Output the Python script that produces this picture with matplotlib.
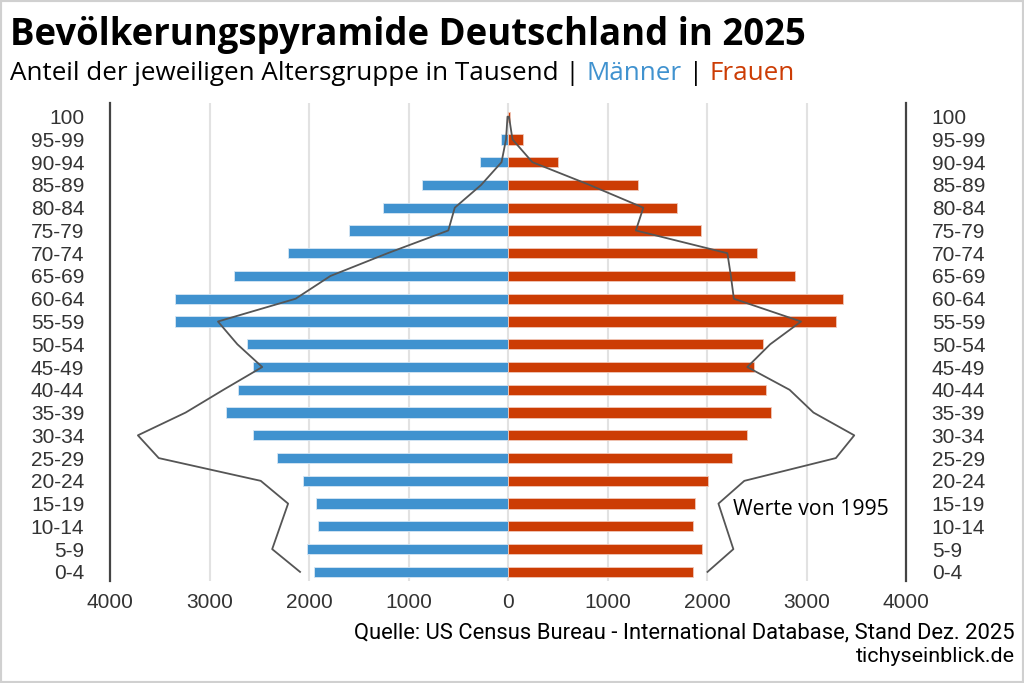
import matplotlib
matplotlib.use('Agg')
import matplotlib.pyplot as plt
from matplotlib.ticker import FuncFormatter, FixedLocator
from matplotlib.patches import Rectangle
import numpy as np

age_groups = ['0-4', '5-9', '10-14', '15-19', '20-24', '25-29', '30-34', '35-39',
              '40-44', '45-49', '50-54', '55-59', '60-64', '65-69', '70-74',
              '75-79', '80-84', '85-89', '90-94', '95-99', '100']
male_2025 = [1945, 2025, 1910, 1925, 2060, 2320, 2560, 2835, 2715, 2560, 2625,
             3350, 3350, 2750, 2215, 1600, 1255, 865, 285, 70, 5]
female_2025 = [1860, 1945, 1860, 1875, 2015, 2250, 2405, 2645, 2595, 2475, 2560,
               3295, 3365, 2885, 2505, 1940, 1700, 1305, 500, 155, 20]
male_1995 = [2090, 2370, 2290, 2210, 2485, 3510, 3720, 3240, 2860, 2470, 2720,
             2915, 2135, 1785, 1210, 600, 535, 270, 65, 20, 5]
female_1995 = [2005, 2265, 2190, 2115, 2375, 3295, 3480, 3070, 2830, 2405, 2635,
               2945, 2270, 2240, 2205, 1285, 1360, 820, 245, 45, 10]
x_ticks = [-4000, -3000, -2000, -1000, 0, 1000, 2000, 3000, 4000]

BLUE = '#4092cf'
ORANGE = '#cc3c04'
W, H = 1024, 683

fig = plt.figure(figsize=(W / 100, H / 100), dpi=100)
fig.patch.set_facecolor('white')
ax = fig.add_axes([110 / W, 1 - 581 / H, 796 / W, 478 / H])

idx = np.arange(len(age_groups))
ax.barh(idx, -np.array(male_2025), height=0.45, color=BLUE,
        edgecolor='#d6e6f4', linewidth=0.6, zorder=2)
ax.barh(idx, np.array(female_2025), height=0.45, color=ORANGE,
        edgecolor='#f0c8b8', linewidth=0.6, zorder=2)

line_x = np.concatenate([-np.array(male_1995), np.array(female_1995)[::-1]])
line_y = np.concatenate([idx, idx[::-1]])
ax.plot(line_x, line_y, color='#555555', lw=1.3, zorder=3)

ax.set_xlim(-4000, 4000)
ax.set_ylim(-0.4, 20.6)
ax.xaxis.set_major_locator(FixedLocator(x_ticks))
ax.xaxis.set_major_formatter(FuncFormatter(lambda v, p: f'{abs(int(v))}'))
for g in x_ticks[1:-1]:
    ax.axvline(g, color='#e2e2e2', lw=1.5, zorder=0)

ax.set_yticks(idx)
ax.set_yticklabels(age_groups)
ax.tick_params(axis='y', length=0, pad=18.5, labelsize=15, labelcolor='#333333',
               labelleft=True, labelright=True)
ax.tick_params(axis='x', length=0, pad=9, labelsize=15, labelcolor='#333333')
for lab in ax.get_xticklabels():
    lab.set_fontfamily('Liberation Sans')
for tick in ax.yaxis.get_major_ticks():
    tick.label1.set_fontfamily('Liberation Sans')
    tick.label2.set_fontfamily('Liberation Sans')

for s in ['top', 'bottom']:
    ax.spines[s].set_visible(False)
for s in ['left', 'right']:
    ax.spines[s].set_color('#444444')
    ax.spines[s].set_linewidth(1.6)

renderer = fig.canvas.get_renderer()


def fit(t, target_w):
    w = t.get_window_extent(renderer).width
    t.set_fontsize(t.get_fontsize() * target_w / w)


# Title
title = fig.text(10 / W, 1 - 45 / H, 'Bevölkerungspyramide Deutschland in 2025',
                 fontsize=28, fontweight='bold', family='Open Sans', color='black',
                 ha='left', va='baseline')
fit(title, 795)

# Subtitle in colored pieces
pieces = [('Anteil der jeweiligen Altersgruppe in Tausend | ', 'black'),
          ('Männer', BLUE), (' | ', 'black'), ('Frauen', ORANGE)]
base = 19.0
texts = []
for s, c in pieces:
    texts.append(fig.text(0, 1 - 80 / H, s, fontsize=base, family='Open Sans',
                          color=c, ha='left', va='baseline'))
total = sum(t.get_window_extent(renderer).width for t in texts)
size = base * 783 / total
xpos = 10
for t in texts:
    t.set_fontsize(size)
    t.set_x(xpos / W)
    xpos += t.get_window_extent(renderer).width

# Annotation
ann = fig.text(733 / W, 1 - 515 / H, 'Werte von 1995', fontsize=14,
               family='Open Sans', color='black', ha='left', va='baseline')
fit(ann, 157)

# Footer
f1 = fig.text(1015 / W, 1 - 638 / H,
              'Quelle: US Census Bureau - International Database, Stand Dez. 2025',
              fontsize=14, family='Roboto',
              color='black', ha='right', va='baseline')
fit(f1, 666)
f2 = fig.text(1015 / W, 1 - 662 / H, 'tichyseinblick.de', fontsize=14,
              family='Roboto', color='black',
              ha='right', va='baseline')
fit(f2, 160)

# frame around image
fig.patches.append(Rectangle((0, 0), 1, 1, transform=fig.transFigure, fill=False,
                             edgecolor='#d0d0d0', lw=3))

fig.savefig('out.png', dpi=100)
